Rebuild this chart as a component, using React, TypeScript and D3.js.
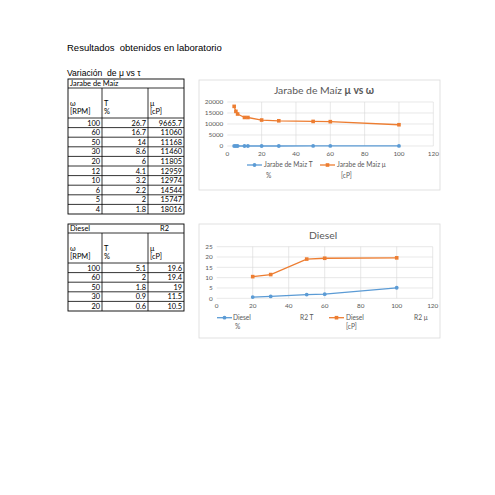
import * as d3 from "d3";

// Jarabe de Maiz
const jOmega = [100, 60, 50, 30, 20, 12, 10, 6, 5, 4];
const jT = [26.7, 16.7, 14, 8.6, 6, 4.1, 3.2, 2.2, 2, 1.8];
const jMu = [9665.7, 11060, 11168, 11460, 11805, 12959, 12974, 14544, 15747, 18016];

// Diesel
const dOmega = [100, 60, 50, 30, 20];
const dT = [5.1, 2, 1.8, 0.9, 0.6];
const dMu = [19.6, 19.4, 19, 11.5, 10.5];

const xTicks = [0, 20, 40, 60, 80, 100, 120];
const jYTicks = [0, 5000, 10000, 15000, 20000];
const dYTicks = [0, 5, 10, 15, 20, 25];

const BLUE = "#5B9BD5";
const ORANGE = "#ED7D31";
const GRID = "#D9D9D9";
const LABEL = "#595959";
const tableFont = "Lato, 'Open Sans', sans-serif";

function Table({ top, title, right, omega, t, mu }) {
  const x0 = 68, x1 = 102, x2 = 148, x3 = 184;
  const nameH = 9, headH = 30, rowH = 9.6;
  const bodyTop = top + nameH + headH;
  const bottom = bodyTop + omega.length * rowH;
  return (
    <g fontFamily={tableFont} fontSize="7.4" fill="#000">
      <rect x={x0} y={top} width={x3 - x0} height={bottom - top} fill="none" stroke="#000" strokeWidth="0.9" />
      <line x1={x0} x2={x3} y1={top + nameH} y2={top + nameH} stroke="#000" strokeWidth="0.8" />
      <line x1={x1} x2={x1} y1={top + nameH} y2={bottom} stroke="#000" strokeWidth="0.8" />
      <line x1={x2} x2={x2} y1={top + nameH} y2={bottom} stroke="#000" strokeWidth="0.8" />
      <text x={x0 + 2} y={top + 7.3}>{title}</text>
      {right && <text x={x2 + 12} y={top + 7.3}>{right}</text>}
      <text x={x0 + 2} y={top + nameH + 18}>ω</text>
      <text x={x0 + 2} y={top + nameH + 26}>[RPM]</text>
      <text x={x1 + 2} y={top + nameH + 18}>T</text>
      <text x={x1 + 2} y={top + nameH + 26}>%</text>
      <text x={x2 + 2} y={top + nameH + 18}>μ</text>
      <text x={x2 + 2} y={top + nameH + 26}>[cP]</text>
      {omega.map((w, i) => {
        const y = bodyTop + i * rowH;
        return (
          <g key={i}>
            <line x1={x0} x2={x3} y1={y} y2={y} stroke="#000" strokeWidth="0.8" />
            <text x={x1 - 2} y={y + 7.6} textAnchor="end">{String(w)}</text>
            <text x={x2 - 2} y={y + 7.6} textAnchor="end">{String(t[i])}</text>
            <text x={x3 - 2} y={y + 7.6} textAnchor="end">{String(mu[i])}</text>
          </g>
        );
      })}
    </g>
  );
}

function Chart({ box, plot, yDomain, yTicks, omega, t, mu, title, legend }) {
  const x = d3.scaleLinear().domain([0, 120]).range([plot.l, plot.r]);
  const y = d3.scaleLinear().domain(yDomain).range([plot.b, plot.t]);
  const line = d3.line().x((d) => x(d[0])).y((d) => y(d[1]));
  const sT = omega.map((w, i) => [w, t[i]]);
  const sMu = omega.map((w, i) => [w, mu[i]]);
  return (
    <g fontFamily={tableFont}>
      <rect x={box.x} y={box.y} width={box.w} height={box.h} fill="#fff" stroke={GRID} strokeWidth="0.8" />
      {title}
      {yTicks.map((v) => (
        <g key={"y" + v}>
          <line x1={plot.l} x2={plot.r} y1={y(v)} y2={y(v)} stroke={GRID} strokeWidth="0.6" />
          <text x={plot.l - 4} y={y(v) + 2.2} fontSize="6.4" fill={LABEL} textAnchor="end">{v}</text>
        </g>
      ))}
      {xTicks.map((v) => (
        <g key={"x" + v}>
          {v > 0 && <line x1={x(v)} x2={x(v)} y1={plot.t} y2={plot.b} stroke={GRID} strokeWidth="0.6" />}
          <text x={x(v)} y={plot.b + 9.5} fontSize="6.4" fill={LABEL} textAnchor="middle">{v}</text>
        </g>
      ))}
      <path d={line(sT)} fill="none" stroke={BLUE} strokeWidth="1.3" />
      <path d={line(sMu)} fill="none" stroke={ORANGE} strokeWidth="1.3" />
      {sT.map((d, i) => (
        <circle key={"t" + i} cx={x(d[0])} cy={y(d[1])} r="1.9" fill={BLUE} />
      ))}
      {sMu.map((d, i) => (
        <rect key={"m" + i} x={x(d[0]) - 1.8} y={y(d[1]) - 1.8} width="3.6" height="3.6" fill={ORANGE} />
      ))}
      {legend}
    </g>
  );
}

function LegendKey({ x, y, color, square }) {
  return (
    <g>
      <line x1={x} x2={x + 15} y1={y} y2={y} stroke={color} strokeWidth="1.3" />
      {square ? (
        <rect x={x + 5.7} y={y - 1.8} width="3.6" height="3.6" fill={color} />
      ) : (
        <circle cx={x + 7.5} cy={y} r="1.9" fill={color} />
      )}
    </g>
  );
}

export default function App() {
  return (
    <svg
      width={495}
      height={495}
      style={{ position: "absolute", left: 0, top: 0, background: "#fff" }}
    >
      <rect width={495} height={495} fill="#fff" />
      <text x={67} y={51} fontFamily="'Liberation Sans', Arial, sans-serif" fontSize="9.5" fill="#000" style={{ whiteSpace: "pre" }}>
        {"Resultados  obtenidos en laboratorio"}
      </text>
      <text x={67} y={76} fontFamily="'Liberation Sans', Arial, sans-serif" fontSize="8.6" fill="#000" style={{ whiteSpace: "pre" }}>
        {"Variación  de μ vs τ"}
      </text>

      <Table top={79} title="Jarabe de Maiz" right={null} omega={jOmega} t={jT} mu={jMu} />
      <Table top={224} title="Diesel" right="R2" omega={dOmega} t={dT} mu={dMu} />

      <Chart
        box={{ x: 199, y: 80, w: 241, h: 110 }}
        plot={{ l: 227.3, r: 433.3, t: 102, b: 146 }}
        yDomain={[0, 20000]}
        yTicks={jYTicks}
        omega={jOmega}
        t={jT}
        mu={jMu}
        title={
          <text x={324} y={94} fontSize="10.4" fill={LABEL} textAnchor="middle">
            Jarabe de Maíz <tspan fontWeight="bold">μ vs ω</tspan>
          </text>
        }
        legend={
          <g fontSize="6.6" fill={LABEL}>
            <LegendKey x={247} y={165} color={BLUE} square={false} />
            <text x={264} y={167.3}>Jarabe de Maiz T</text>
            <text x={266} y={178}>%</text>
            <LegendKey x={320} y={165} color={ORANGE} square={true} />
            <text x={337} y={167.3}>Jarabe de Maiz μ</text>
            <text x={341} y={178}>[cP]</text>
          </g>
        }
      />

      <Chart
        box={{ x: 199, y: 224, w: 241, h: 114 }}
        plot={{ l: 216.7, r: 432.7, t: 246.7, b: 298.3 }}
        yDomain={[0, 25]}
        yTicks={dYTicks}
        omega={dOmega}
        t={dT}
        mu={dMu}
        title={
          <text x={323} y={238.5} fontSize="10.4" fill={LABEL} textAnchor="middle">
            Diesel
          </text>
        }
        legend={
          <g fontSize="6.6" fill={LABEL}>
            <LegendKey x={217} y={317.7} color={BLUE} square={false} />
            <text x={233} y={320}>Diesel</text>
            <text x={235} y={328.5}>%</text>
            <text x={300} y={320}>R2 T</text>
            <LegendKey x={329} y={317.7} color={ORANGE} square={true} />
            <text x={346} y={320}>Diesel</text>
            <text x={346} y={328.5}>[cP]</text>
            <text x={414} y={320}>R2 μ</text>
          </g>
        }
      />
    </svg>
  );
}
